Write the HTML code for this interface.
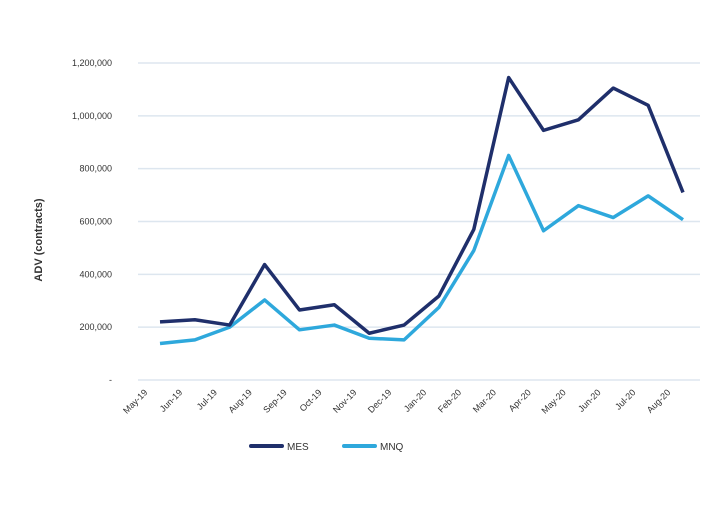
<!DOCTYPE html>
<html><head><meta charset="utf-8"><style>
body{margin:0;background:#fff;font-family:"Liberation Sans",sans-serif}
svg text{font-family:"Liberation Sans",sans-serif;fill:#333}
</style></head><body>
<svg width="720" height="500" id="c"></svg>
<script>
const categories=["May-19","Jun-19","Jul-19","Aug-19","Sep-19","Oct-19","Nov-19","Dec-19","Jan-20","Feb-20","Mar-20","Apr-20","May-20","Jun-20","Jul-20","Aug-20"];
const mesValues=[220000,228000,208000,437000,265000,285000,177000,208000,318000,570000,1145000,945000,985000,1105000,1040000,710000];
const mnqValues=[138000,152000,200000,303000,190000,208000,158000,152000,275000,490000,850000,565000,660000,615000,697000,607000];
const yTicks=[0,200000,400000,600000,800000,1000000,1200000];
const NS="http://www.w3.org/2000/svg",svg=document.getElementById('c');
const gx0=138,x1=700,y0=380,yTop=63;
const px0=160,px1=683;
const bw=(px1-px0)/(categories.length-1);
const xs=i=>px0+bw*i;
const ys=v=>y0-(v/1200000)*(y0-yTop);
function mk(t,a){const e=document.createElementNS(NS,t);for(const k in a)e.setAttribute(k,a[k]);svg.appendChild(e);return e;}
yTicks.forEach(v=>{
 const g=mk('line',{x1:gx0,x2:x1,y1:ys(v),y2:ys(v),stroke:'#dde6ef','stroke-width':1.5});
 
 
 const t=mk('text',{x:112,y:ys(v)+3,'text-anchor':'end','font-size':9});
 t.textContent=v===0?'-':v.toLocaleString('en-US');
 
 
});
categories.forEach((c,i)=>{
 const x=xs(i)-12,y=393;
 const t=mk('text',{x:x,y:y,'text-anchor':'end','font-size':9,transform:`rotate(-45 ${x} ${y})`});
 t.textContent=c;
 
 
});
const yt=mk('text',{x:42,y:240,'text-anchor':'middle','font-size':11,'font-weight':'bold',transform:'rotate(-90 42 240)'});
yt.textContent='ADV (contracts)';


function series(vals,color,name){
 const p=mk('polyline',{points:vals.map((v,i)=>xs(i)+','+ys(v)).join(' '),fill:'none',stroke:color,'stroke-width':3.5,'stroke-linejoin':'round'});
 
 
}
series(mnqValues,'#2ea8dc','mnq-line');
series(mesValues,'#1f2f6b','mes-line');
[['MES','#1f2f6b',251],['MNQ','#2ea8dc',344]].forEach(([n,c,x])=>{
 const l=mk('line',{x1:x,x2:x+31,y1:446,y2:446,stroke:c,'stroke-width':4,'stroke-linecap':'round'});
 
 
 const t=mk('text',{x:x+36,y:450,'font-size':10});
 t.textContent=n;
 
 
});
</script>
</body></html>
